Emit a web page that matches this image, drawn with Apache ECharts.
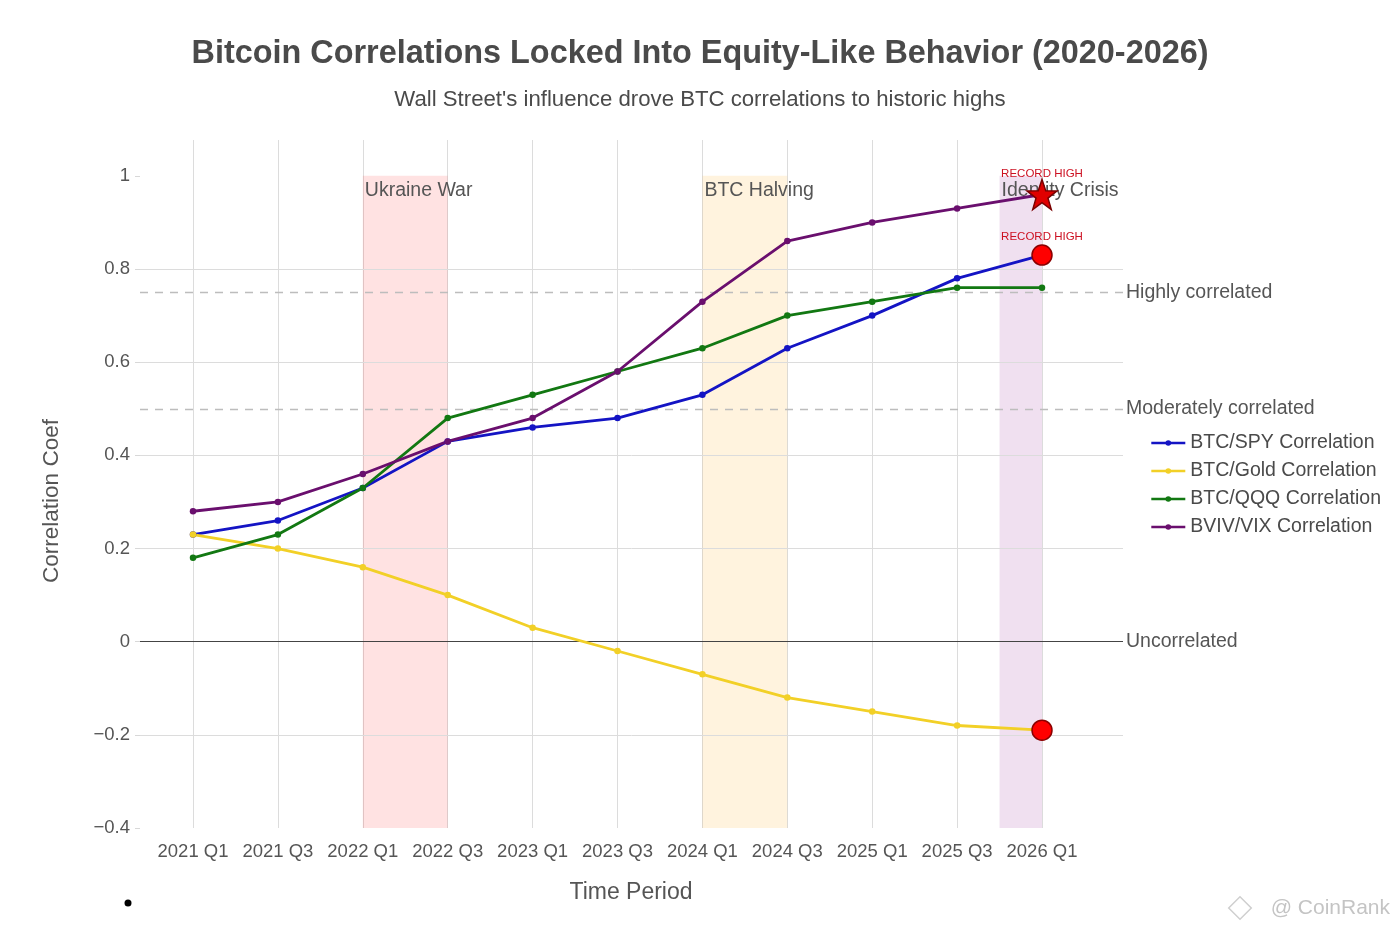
<!DOCTYPE html>
<html>
<head>
<meta charset="utf-8">
<script src="https://cdn.jsdelivr.net/npm/echarts@6/dist/echarts.min.js"></script>
<style>html,body{margin:0;padding:0;background:#fff}#c{width:1400px;height:933px}</style>
</head>
<body>
<div id="c"></div>
<script>
const categories = ['2021 Q1','2021 Q3','2022 Q1','2022 Q3','2023 Q1','2023 Q3','2024 Q1','2024 Q3','2025 Q1','2025 Q3','2026 Q1'];
const btcSpy  = [0.23, 0.26, 0.33, 0.43, 0.46, 0.48, 0.53, 0.63, 0.70, 0.78, 0.83];
const btcGold = [0.23, 0.20, 0.16, 0.10, 0.03, -0.02, -0.07, -0.12, -0.15, -0.18, -0.19];
const btcQqq  = [0.18, 0.23, 0.33, 0.48, 0.53, 0.58, 0.63, 0.70, 0.73, 0.76, 0.76];
const bvivVix = [0.28, 0.30, 0.36, 0.43, 0.48, 0.58, 0.73, 0.86, 0.90, 0.93, 0.96];
const yTicks = [-0.4, -0.2, 0, 0.2, 0.4, 0.6, 0.8, 1];
const gridValues = [-0.2, 0.2, 0.4, 0.6, 0.8];
const refLines = [{v: 0.75, name: 'Highly correlated'}, {v: 0.5, name: 'Moderately correlated'}, {v: 0, name: 'Uncorrelated'}];
const events = [{from: 2, to: 3, name: 'Ukraine War', color: 'rgba(255,0,0,0.115)'},
                {from: 6, to: 7, name: 'BTC Halving', color: 'rgba(255,165,0,0.13)'},
                {from: 9.5, to: 10, name: 'Identity Crisis', color: 'rgba(128,0,128,0.12)'}];
const seriesNames = ['BTC/SPY Correlation','BTC/Gold Correlation','BTC/QQQ Correlation','BVIV/VIX Correlation'];
const colors = ['#1414c4', '#f2d027', '#127812', '#6a0f6e'];

const FONT = '"Liberation Sans", Arial, Helvetica, sans-serif';
const YMIN = -0.4, YMAX = 1.077, BAND_TOP = 1;
const last = a => a[a.length - 1];
const lastIdx = categories.length - 1;
const fmtY = v => { const n = Number(v.toFixed(1)); return n < 0 ? '\u2212' + Math.abs(n) : String(n); };

const chart = echarts.init(document.getElementById('c'), null, {renderer: 'canvas'});

function lineSeries(name, data, color, hideLast, extra) {
  return Object.assign({
    name, type: 'line', xAxisIndex: 1, yAxisIndex: 1,
    data: data.map((v, i) => (hideLast && i === data.length - 1) ? {value: [i, v], symbol: 'none'} : [i, v]),
    symbol: 'circle', symbolSize: 6.5,
    lineStyle: {width: 2.8, color}, itemStyle: {color},
    z: 5
  }, extra || {});
}
const redDot = {symbol: 'circle', symbolSize: 20, itemStyle: {color: '#ff0000', borderColor: '#8b0000', borderWidth: 1.5}};
const recordLabel = {show: true, position: 'top', distance: 1, formatter: 'RECORD HIGH', color: '#cc1122', fontSize: 11.5, fontFamily: FONT};

chart.setOption({
  backgroundColor: '#ffffff',
  animation: false,
  title: [
    {text: 'Bitcoin Correlations Locked Into Equity-Like Behavior (2020-2026)', left: 'center', top: 33,
     textStyle: {fontSize: 32.4, fontWeight: 'bold', color: '#4a4a4a', fontFamily: FONT}},
    {text: "Wall Street's influence drove BTC correlations to historic highs", left: 'center', top: 84,
     textStyle: {fontSize: 22.2, fontWeight: 'normal', color: '#4a4a4a', fontFamily: FONT}}
  ],
  legend: {
    data: seriesNames, orient: 'vertical', left: 1150, top: 433, padding: 0, itemWidth: 34, itemHeight: 7, itemGap: 8,
    itemStyle: {borderWidth: 0}, lineStyle: {width: 2.6},
    textStyle: {fontSize: 19.5, color: '#4a4a4a', fontFamily: FONT, lineHeight: 20}
  },
  grid: [
    {left: 140, right: 277, top: 140, bottom: 105},
    {left: 193, right: 358, top: 140, bottom: 105}
  ],
  xAxis: [
    {gridIndex: 0, type: 'value', min: 0, max: 1, show: false},
    {gridIndex: 1, type: 'value', min: 0, max: 10, interval: 1,
     axisLine: {show: false}, axisTick: {show: true, length: 6, lineStyle: {color: '#d8d8d8'}},
     axisLabel: {formatter: v => categories[v] || '', fontSize: 18.5, color: '#555', fontFamily: FONT, margin: 14},
     splitLine: {show: true, lineStyle: {color: '#dcdcdc', width: 1}}}
  ],
  yAxis: [
    {gridIndex: 0, type: 'value', min: YMIN, max: YMAX,
     axisLine: {show: false},
     axisTick: {show: true, length: 5, customValues: yTicks, lineStyle: {color: '#d8d8d8'}},
     axisLabel: {customValues: yTicks, formatter: fmtY, fontSize: 18.5, color: '#555', fontFamily: FONT, margin: 10},
     splitLine: {show: false}},
    {gridIndex: 1, type: 'value', min: YMIN, max: YMAX, show: false, splitLine: {show: false}}
  ],
  graphic: [
    {type: 'text', x: 52, y: 501, rotation: Math.PI / 2,
     style: {text: 'Correlation Coef', fill: '#555', font: '22.5px ' + FONT, align: 'center', verticalAlign: 'middle'}},
    {type: 'text', x: 631, y: 893,
     style: {text: 'Time Period', fill: '#555', font: '23px ' + FONT, align: 'center', verticalAlign: 'middle'}},
    {type: 'circle', shape: {cx: 128, cy: 903, r: 3.5}, style: {fill: '#000'}},
    {type: 'text', x: 1390, y: 908,
     style: {text: '@ CoinRank', fill: '#c4c4c4', font: '21px ' + FONT, align: 'right', verticalAlign: 'middle'}},
    {type: 'rect', x: 1240, y: 908, shape: {x: -8, y: -8, width: 16, height: 16}, rotation: Math.PI / 4,
     style: {fill: 'none', stroke: '#cfcfcf', lineWidth: 1.5}}
  ],
  series: [
    {name: 'grid', type: 'line', xAxisIndex: 0, yAxisIndex: 0, data: [], silent: true, z: 1,
     markLine: {silent: true, symbol: 'none', animation: false,
       data: gridValues.map(v => ({yAxis: v, lineStyle: {color: '#dcdcdc', width: 1, type: 'solid'}, label: {show: false}}))
         .concat(refLines.map(r => ({yAxis: r.v,
           lineStyle: r.v === 0 ? {color: '#444', width: 1.2, type: 'solid'} : {color: '#bdbdbd', width: 1.3, type: [8, 7]},
           label: {show: true, position: 'end', distance: 3, formatter: r.name, color: '#555', fontSize: 19.5, fontFamily: FONT}})))
     }},
    lineSeries(seriesNames[0], btcSpy, colors[0], true, {markPoint: {z: 10, data: [Object.assign({coord: [lastIdx, last(btcSpy)], label: recordLabel}, redDot)]}}),
    lineSeries(seriesNames[1], btcGold, colors[1], true, {
      markPoint: {z: 10, data: [Object.assign({coord: [lastIdx, last(btcGold)], label: {show: false}}, redDot)]},
      markArea: {silent: true, label: {show: false},
        data: events.map(e => [
          {xAxis: e.from, yAxis: YMIN, itemStyle: {color: e.color}},
          {xAxis: e.to, yAxis: BAND_TOP}
        ])}}),
    lineSeries(seriesNames[2], btcQqq, colors[2], false, {
      markPoint: {z: 4, silent: true,
        data: events.map(e => ({coord: [e.from, BAND_TOP], symbol: 'circle', symbolSize: 0,
          label: {show: true, position: [2, 5], formatter: e.name, color: '#555', fontSize: 19.5, fontFamily: FONT}}))}}),
    lineSeries(seriesNames[3], bvivVix, colors[3], true, {markPoint: {z: 10, data: [{coord: [lastIdx, last(bvivVix)], symbol: 'path://M0,-10 L2.35,-3.24 L9.51,-3.09 L3.8,1.24 L5.88,8.09 L0,4 L-5.88,8.09 L-3.8,1.24 L-9.51,-3.09 L-2.35,-3.24 Z',
      symbolSize: 30, itemStyle: {color: '#e00000', borderColor: '#7a0000', borderWidth: 1.5}, label: Object.assign({}, recordLabel, {distance: -1})}]}})
  ]
});
</script>
</body>
</html>
